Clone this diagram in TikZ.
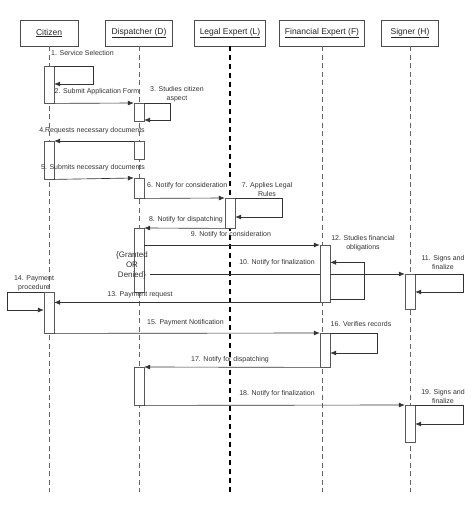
\documentclass[tikz,border=0pt]{standalone}
\usepackage{fontspec}
\setmainfont{Liberation Sans}
\usetikzlibrary{arrows.meta}

\tikzset{
  actor/.style={draw=black!70, minimum height=26pt, inner sep=0pt, text=black!85,
    font=\fontsize{8.5}{10}\selectfont},
  lifeline/.style={draw=black!60, dash pattern=on 5pt off 3.5pt, line width=0.8pt},
  legalline/.style={draw=black, dash pattern=on 5pt off 4pt, line width=1.1pt},
  act/.style={draw=black!65, fill=white, minimum width=10pt, inner sep=0pt, anchor=north},
  msg/.style={draw=black!80, line width=0.65pt, -{Latex[length=6pt,width=5pt]}},
  lbl/.style={font=\fontsize{7}{9}\selectfont, text=black!80, inner sep=0pt, align=center},
}

\begin{document}
\begin{tikzpicture}[x=1pt, y=-1pt]
\useasboundingbox (0,0) rectangle (474,512);

%%   actors   (name)   (x, y)   {text}
\node[actor, minimum width=58pt] (cit) at (49,33)  {\underline{Citizen}};
\node[actor, minimum width=67pt] (dsp) at (139,33) {\underline{Dispatcher (D)}};
\node[actor, minimum width=71pt] (leg) at (230,33) {\underline{Legal Expert (L)}};
\node[actor, minimum width=85pt] (fin) at (322,33) {\underline{Financial Expert (F)}};
\node[actor, minimum width=57pt] (sgn) at (410,33) {\underline{Signer (H)}};

\draw[lifeline] (cit.south) -- ++(0,446);
\draw[lifeline] (dsp.south) -- ++(0,446);
\draw[legalline] (leg.south) -- ++(0,446);
\draw[lifeline] (fin.south) -- ++(0,446);
\draw[lifeline] (sgn.south) -- ++(0,446);

%%   activations
\node[act, minimum height=37pt] (c1) at (49,66) {};
\node[act, minimum height=18pt] (d1) at (139,103) {};
\node[act, minimum height=18pt] (d2) at (139,141) {};
\node[act, minimum height=38pt] (c2) at (49,141) {};
\node[act, minimum height=20pt] (d3) at (139,178) {};
\node[act, minimum height=30pt] (l1) at (230,198) {};
\node[act, minimum height=64pt] (d4) at (139,228) {};
\node[act, minimum height=57pt] (f1) at (325,245) {};
\node[act, minimum height=35pt] (h1) at (410,274) {};
\node[act, minimum height=41pt] (c3) at (49,292) {};
\node[act, minimum height=34pt] (f2) at (325,333) {};
\node[act, minimum height=38pt] (d5) at (139,367) {};
\node[act, minimum height=37pt] (h2) at (410,405) {};

%%   messages
\draw[msg] (c1.north east) -- ++(39,0) -- ++(0,18) -- ++(-39,0);
\node[lbl, anchor=west] (t1) at (51,53) {1. Service Selection};

\draw[msg] (c1.south east) -- (d1.north west);
\node[lbl] (t2) at (97,92) {2. Submit Application Form};

\draw[msg] (d1.north east) -- ++(26,0) -- ++(0,17) -- ++(-26,0);
\node[lbl] (t3) at (177,94) {3. Studies citizen\\aspect};

\draw[msg] (d2.north west) -- (c2.north east);
\node[lbl] (t4) at (92,131) {4.Requests necessary documents};

\draw[msg] (c2.south east) -- (d3.north west);
\node[lbl] (t5) at (93,168) {5. Submits necessary documents};

\draw[msg] (d3.south east) -- (l1.north west);
\node[lbl, anchor=west] (t6) at (147,186) {6. Notify for consideration};

\draw[msg] (l1.north east) -- ++(47,0) -- ++(0,19) -- ++(-47,0);
\node[lbl] (t7) at (267,189) {7. Applies Legal\\Rules};

\draw[msg] (l1.south west) -- (d4.north east);
\node[lbl] (t8) at (186,220) {8. Notify for dispatching};

\draw[msg] (d4.east |- f1.north) -- (f1.north west);
\node[lbl] (t9) at (231,235) {9. Notify for consideration};

\node[font=\fontsize{8}{10}\selectfont, text=black!80, align=center, inner sep=2pt]
  (gd) at (132,265) {\{Granted\\OR\\Denied\}};

\draw[draw=black!80, line width=0.65pt] (gd.east |- h1.north) -- (f1.west |- h1.north);
\draw[msg] (f1.east |- h1.north) -- (h1.north west);
\node[lbl] (t10) at (277,263) {10. Notify for finalization};

\draw[msg] (h1.north east) -- ++(48,0) -- ++(0,18) -- ++(-48,0);
\node[lbl] (t11) at (443,262) {11. Signs and\\finalize};

\draw[msg] ([yshift=3pt]f1.south east) -- ++(34,0) -- ++(0,-37) -- ++(-34,0);
\node[lbl] (t12) at (363,243) {12. Studies financial\\obligations};

\draw[msg] (f1.south west) -- (c3.east |- f1.south);
\node[lbl] (t13) at (140,295) {13. Payment request};

\draw[msg] (c3.north west) -- ++(-36,0) -- ++(0,18) -- ++(36,0);
\node[lbl] (t14) at (34,283) {14. Payment\\procedure};

\draw[msg] (c3.south east) -- (f2.north west);
\node[lbl, anchor=west] (t15) at (147,323) {15. Payment Notification};

\draw[msg] (f2.north east) -- ++(47,0) -- ++(0,20) -- ++(-47,0);
\node[lbl] (t16) at (361,324) {16. Verifies records};

\draw[msg] (f2.south west) -- (d5.north east);
\node[lbl] (t17) at (230,360) {17. Notify for dispatching};

\draw[msg] (d5.south east) -- (h2.north west);
\node[lbl] (t18) at (277,394) {18. Notify for finalization};

\draw[msg] (h2.north east) -- ++(48,0) -- ++(0,19) -- ++(-48,0);
\node[lbl] (t19) at (443,396) {19. Signs and\\finalize};
\end{tikzpicture}
\end{document}
